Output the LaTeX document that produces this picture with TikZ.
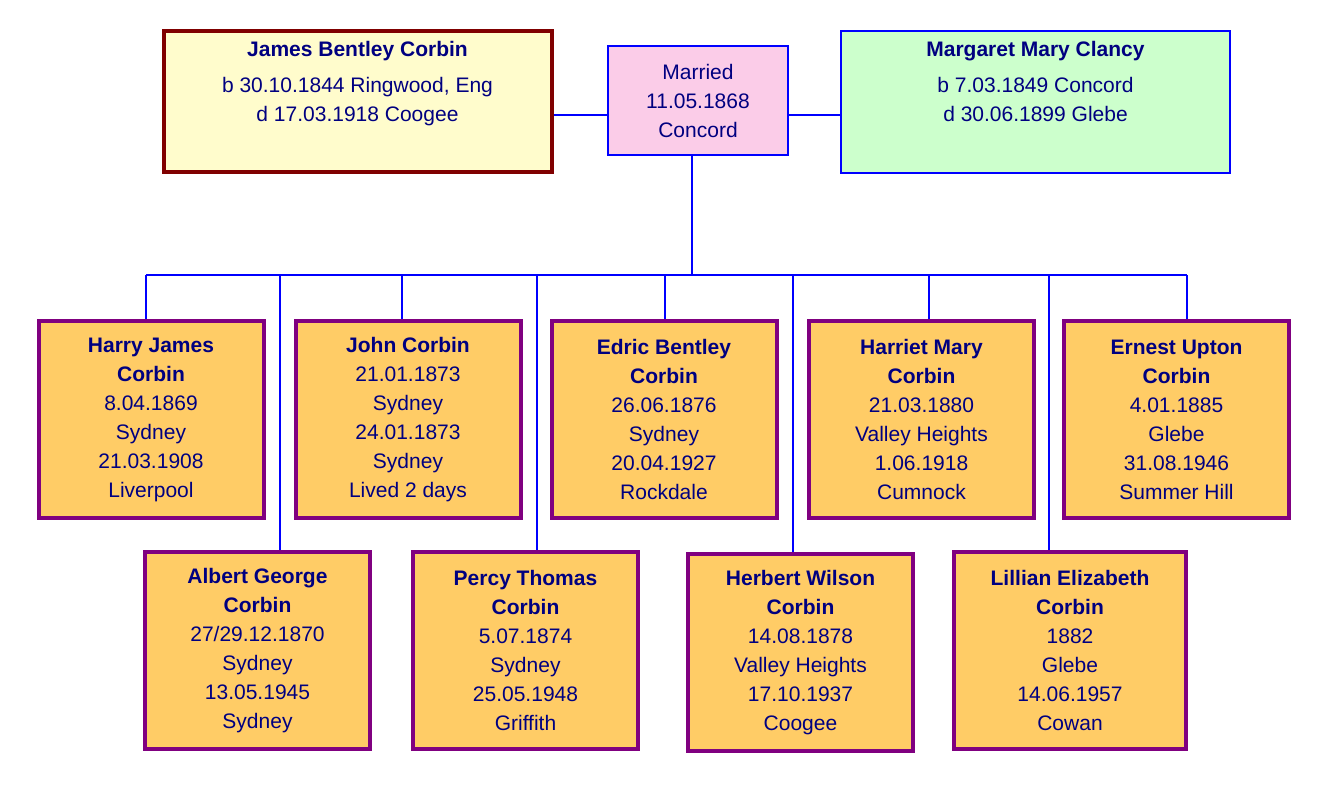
\documentclass[tikz,border=0pt]{standalone}
\usepackage{fontspec}
\setmainfont{Liberation Sans}
\usetikzlibrary{calc}
\definecolor{navy}{HTML}{000080}
\definecolor{kidfill}{HTML}{FFCC66}
\definecolor{kidline}{HTML}{800080}
\definecolor{darkred}{HTML}{800000}
\definecolor{conn}{HTML}{0000FF}
\begin{document}
\begin{tikzpicture}[x=1pt,y=-1pt,
  every node/.style={font=\fontsize{21}{29}\selectfont, text=navy, align=center, inner sep=0pt},
  kid/.style={draw=kidline, line width=4pt, fill=kidfill, minimum width=225pt, minimum height=197pt},
  link/.style={draw=conn, line width=1.3pt}]
\useasboundingbox (0,0) rectangle (1325,789);
\node[draw=darkred, line width=4pt, fill=yellow!20, minimum width=388pt, minimum height=140pt] (james) at (357.5,101.5) {\textbf{James Bentley Corbin}\\[7pt]b 30.10.1844 Ringwood, Eng\\d 17.03.1918 Coogee\\[12pt]};
\node[draw=conn, line width=1.3pt, fill=magenta!20, minimum width=180pt, minimum height=109pt] (married) at (698,100.5) {Married\\11.05.1868\\Concord};
\node[draw=conn, line width=1.3pt, fill=green!20, minimum width=389pt, minimum height=142pt] (margaret) at (1035.5,102) {\textbf{Margaret Mary Clancy}\\[7pt]b 7.03.1849 Concord\\d 30.06.1899 Glebe\\[12pt]};
\draw[link] (james.east |- 0,115) -- (married.west |- 0,115);
\draw[link] (married.east |- 0,115) -- (margaret.west |- 0,115);
\coordinate (bus) at (692,275);
\coordinate (busL) at (146,275);
\coordinate (busR) at (1187,275);
\draw[link] (married.south -| bus) -- (bus);
\draw[link] (busL) -- (busR);
% top row
\node[kid] (harry) at (151,419.5) {\textbf{Harry James}\\\textbf{Corbin}\\8.04.1869\\Sydney\\21.03.1908\\Liverpool};
\node[kid] (john) at (408,419.5) {\textbf{John Corbin}\\21.01.1873\\Sydney\\24.01.1873\\Sydney\\Lived 2 days};
\node[kid] (edric) at (664,419.5) {\textbf{Edric Bentley}\\\textbf{Corbin}\\26.06.1876\\Sydney\\20.04.1927\\Rockdale};
\node[kid] (harriet) at (921.5,419.5) {\textbf{Harriet Mary}\\\textbf{Corbin}\\21.03.1880\\Valley Heights\\1.06.1918\\Cumnock};
\node[kid] (ernest) at (1176.5,419.5) {\textbf{Ernest Upton}\\\textbf{Corbin}\\4.01.1885\\Glebe\\31.08.1946\\Summer Hill};
% bottom row
\node[kid] (albert) at (257.5,650.5) {\textbf{Albert George}\\\textbf{Corbin}\\27/29.12.1870\\Sydney\\13.05.1945\\Sydney};
\node[kid] (percy) at (525.5,650) {\textbf{Percy Thomas}\\\textbf{Corbin}\\5.07.1874\\Sydney\\25.05.1948\\Griffith};
\node[kid] (herbert) at (800.5,652.5) {\textbf{Herbert Wilson}\\\textbf{Corbin}\\14.08.1878\\Valley Heights\\17.10.1937\\Coogee};
\node[kid, minimum width=232pt] (lillian) at (1070,650.5) {\textbf{Lillian Elizabeth}\\\textbf{Corbin}\\1882\\Glebe\\14.06.1957\\Cowan};
% drops
\draw[link] (busL) -- (busL |- harry.north);
\draw[link] (402,275) -- (402,0 |- john.north);
\draw[link] (665,275) -- (665,0 |- edric.north);
\draw[link] (929,275) -- (929,0 |- harriet.north);
\draw[link] (busR) -- (busR |- ernest.north);
\draw[link] (280,275) -- (280,0 |- albert.north);
\draw[link] (537,275) -- (537,0 |- percy.north);
\draw[link] (793,275) -- (793,0 |- herbert.north);
\draw[link] (1049,275) -- (1049,0 |- lillian.north);
\end{tikzpicture}
\end{document}
